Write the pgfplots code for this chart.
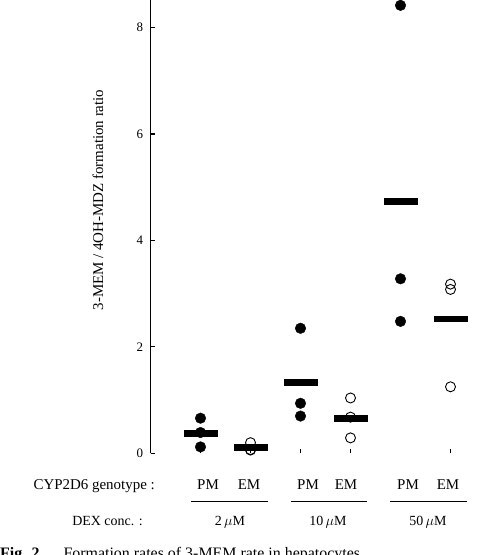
\documentclass[border=0pt]{standalone}
\usepackage{pgfplots}
\pgfplotsset{compat=1.18}
\usepackage{fontspec}
\setmainfont{Liberation Serif}
\begin{document}
\begin{tikzpicture}
\path[use as bounding box] (0,0) rectangle (500bp,555bp);
\begin{axis}[
  at={(150.5bp,101.7bp)}, anchor=south west,
  x=50bp, y=53.2bp,
  xmin=0, xmax=7, ymin=0, ymax=8.52,
  axis x line*=bottom,
  axis y line*=left,
  x axis line style={opacity=0},
  y axis line style={line width=1.5bp, black},
  xtick={1,2,3,4,6,7}, xticklabels={},
  ytick={0,2,4,6,8},
  tick align=inside,
  major tick length=4bp,
  tick style={line width=1.2bp, black},
  /pgf/number format/assume math mode=true,
  yticklabel style={font=\fontsize{13}{15}\selectfont, xshift=-4bp},
  clip=false,
]
% individual values, PM (filled)
\addplot[only marks, mark=*, mark size=5.3bp, mark options={fill=black, draw=black}]
  coordinates {(1,0.66) (1,0.39) (1,0.12)
               (3,2.35) (3,0.94) (3,0.70)
               (5,8.42) (5,3.28) (5,2.48)};
% individual values, EM (open)
\addplot[only marks, mark=o, mark size=5bp, mark options={draw=black, line width=0.9bp}]
  coordinates {(2,0.20) (2,0.07) (2,0.06)
               (4,1.04) (4,0.68) (4,0.29)
               (6,3.18) (6,3.08) (6,1.25)};
% means
\addplot[only marks, mark=-, mark size=17bp, mark options={line width=6.5bp, black}]
  coordinates {(1,0.37) (2,0.11) (3,1.33) (4,0.65) (5,4.73) (6,2.52)};
\end{axis}
\draw[line width=1.5bp, black] (150.5bp,101.7bp) -- (150.5bp,555bp);
\node[rotate=90, font=\fontsize{15}{17}\selectfont] at (98bp,355bp) {3-MEM / 4OH-MDZ formation ratio};
\begin{scope}[every node/.style={font=\fontsize{15}{17}\selectfont, anchor=base, inner sep=0pt}]
\node[anchor=base east] at (155bp,65bp) {CYP2D6 genotype :};
\node at (208bp,65bp) {PM};
\node at (249bp,65bp) {EM};
\node at (308bp,65bp) {PM};
\node at (346bp,65bp) {EM};
\node at (408bp,65bp) {PM};
\node at (448bp,65bp) {EM};
\end{scope}
\draw[line width=0.9bp] (191bp,53.3bp) -- (268bp,53.3bp);
\draw[line width=0.9bp] (291bp,53.3bp) -- (367bp,53.3bp);
\draw[line width=0.9bp] (390bp,53.3bp) -- (467bp,53.3bp);
\begin{scope}[every node/.style={font=\fontsize{14}{16}\selectfont, anchor=base, inner sep=0pt}]
\node[anchor=base east] at (143bp,30bp) {DEX conc. :};
\node at (230bp,30bp) {2\,$\mu$M};
\node at (328bp,30bp) {10\,$\mu$M};
\node at (428bp,30bp) {50\,$\mu$M};
\end{scope}
\node[anchor=base west, inner sep=0pt, font=\fontsize{16}{18}\selectfont] at (0bp,-3.5bp) {\textbf{Fig. 2}\quad\ \ Formation rates of 3-MEM rate in hepatocytes};
\end{tikzpicture}
\end{document}
